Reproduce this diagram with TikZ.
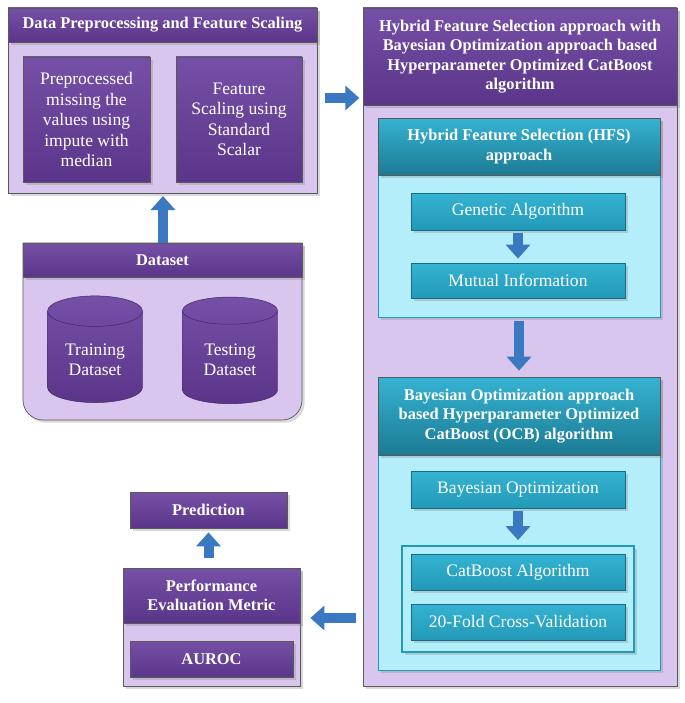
\documentclass[tikz,border=0pt]{standalone}
\usepackage{fontspec}
\setmainfont{Liberation Serif}
\usetikzlibrary{arrows.meta,shapes.geometric,fit,shadows}
\definecolor{pdark}{HTML}{5B3589}
\definecolor{pmid}{HTML}{7550A6}
\definecolor{plight}{HTML}{D8C6EE}
\definecolor{cdark}{HTML}{2399B8}
\definecolor{cmid}{HTML}{35B3D2}
\definecolor{clight}{HTML}{B4EEFB}
\definecolor{ablue}{HTML}{3B78C2}
\tikzset{
  frame/.style={draw=gray!70!black, line width=0.6pt, inner sep=0pt, drop shadow={opacity=0.3}},
  pouter/.style={frame, fill=plight},
  phead/.style={frame, top color=pmid, bottom color=pdark},
  pinner/.style={frame, top color=pmid, bottom color=pdark},
  couter/.style={frame, fill=clight, draw=cdark},
  chead/.style={frame, top color=cmid, bottom color=cdark!80!black},
  cinner/.style={frame, top color=cmid, bottom color=cdark, draw=cdark!70!black},
  htext/.style={text=white, font=\fontsize{14}{16.5}\selectfont\bfseries, align=center},
  btext/.style={text=white, font=\fontsize{15}{17.5}\selectfont\rmfamily, align=center},
  flow/.style={draw=ablue, line width=0.3cm, -{Triangle[width=0.72cm,length=0.42cm]}},
}
\begin{document}
\begin{tikzpicture}[x=0.03cm,y=-0.03cm]
\useasboundingbox (0,0) rectangle (685,703);
% data preprocessing
\node[pouter, fit={(8,8) (317,193)}] (dp) {};
\node[phead, fit={(8,8) (317,42)}] (dphead) {};
\node[htext] at (dphead) {Data Preprocessing and Feature Scaling};
\node[pinner, fit={(23,57) (150,182)}] (impute) {};
\node[btext] at (impute) {Preprocessed\\missing the\\values using\\impute with\\median};
\node[pinner, fit={(176,57) (302,182)}] (scale) {};
\node[btext] at (scale) {Feature\\Scaling using\\Standard\\Scalar};
% dataset
\filldraw[fill=plight, draw=gray!70!black, line width=0.6pt, drop shadow={opacity=0.3}]
  (23,243) [rounded corners=0.6cm] -- (23,420) -- (302,420) [sharp corners] -- (302,243) -- cycle;
\node[phead, fit={(23,243) (302,277)}] (dshead) {};
\node[htext] at (dshead) {Dataset};
\coordinate (ds) at (163,243);
\node[cylinder, shape border rotate=90, aspect=0.45, minimum width=2.85cm, minimum height=3.2cm,
  top color=pmid, bottom color=pdark, draw=pdark!70!black, btext] (train) at (95,360) {Training\\Dataset};
\node[cylinder, shape border rotate=90, aspect=0.45, minimum width=2.85cm, minimum height=3.2cm,
  top color=pmid, bottom color=pdark, draw=pdark!70!black, btext] (test) at (230,360) {Testing\\Dataset};
% right column
\node[pouter, fit={(363,8) (677,686)}] (hyb) {};
\node[phead, fit={(363,8) (677,105)}] (hybhead) {};
\node[htext] at (hybhead) {Hybrid Feature Selection approach with\\Bayesian Optimization approach based\\Hyperparameter Optimized CatBoost\\algorithm};
\node[couter, fit={(378,118) (660,317)}] (hfs) {};
\node[chead, fit={(378,118) (660,175)}] (hfshead) {};
\node[htext] at (hfshead) {Hybrid Feature Selection (HFS)\\approach};
\node[cinner, fit={(411,193) (625,230)}] (ga) {};
\node[btext] at (ga) {Genetic Algorithm};
\node[cinner, fit={(411,263) (625,298)}] (mi) {};
\node[btext] at (mi) {Mutual Information};
\node[couter, fit={(378,377) (660,670)}] (ocb) {};
\node[chead, fit={(378,377) (660,455)}] (ocbhead) {};
\node[htext] at (ocbhead) {Bayesian Optimization approach\\based Hyperparameter Optimized\\CatBoost (OCB) algorithm};
\node[cinner, fit={(411,471) (625,508)}] (bo) {};
\node[btext] at (bo) {Bayesian Optimization};
\node[couter, line width=1.5pt, fit={(402,546) (634,652)}] (cbframe) {};
\node[cinner, fit={(411,554) (625,590)}] (cb) {};
\node[btext] at (cb) {CatBoost Algorithm};
\node[cinner, fit={(411,604) (625,640)}] (cv) {};
\node[btext] at (cv) {20-Fold Cross-Validation};
% evaluation
\node[pouter, fit={(123,568) (300,686)}] (pem) {};
\node[phead, fit={(123,568) (300,623)}] (pemhead) {};
\node[htext] at (pemhead) {Performance\\Evaluation Metric};
\node[pinner, fit={(130,641) (293,677)}] (auroc) {};
\node[htext] at (auroc) {AUROC};
\node[pinner, fit={(130,492) (287,528)}] (pred) {};
\node[htext] at (pred) {Prediction};
% flow arrows
\draw[flow] (ds) -- ([yshift=-0.08cm]dp.south -| ds);
\draw[flow] ([xshift=0.24cm]dp.east |- 0,98) -- ([xshift=-0.1cm]hyb.west |- 0,98);
\draw[flow] ([yshift=-0.08cm]ga.south) -- ([yshift=0.12cm]mi.north);
\draw[flow] ([yshift=-0.12cm]hfs.south) -- ([yshift=0.18cm]ocb.north);
\draw[flow] ([yshift=-0.08cm]bo.south) -- ([yshift=0.15cm]cbframe.north);
\draw[flow] ([xshift=-0.2cm]hyb.west |- 0,618) -- ([xshift=0.3cm]pem.east |- 0,618);
\draw[flow] ([yshift=0.3cm]pem.north -| pred) -- ([yshift=-0.12cm]pred.south);
\end{tikzpicture}
\end{document}
